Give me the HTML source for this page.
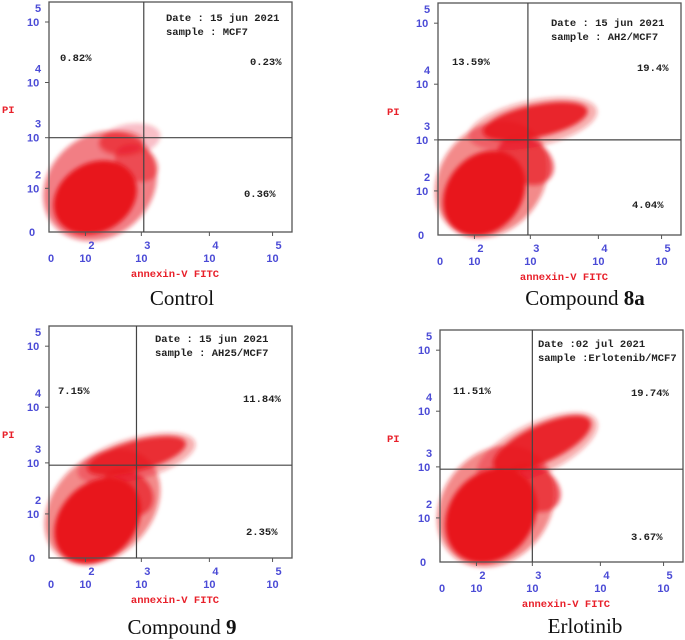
<!DOCTYPE html>
<html><head><meta charset="utf-8"><style>
html,body{margin:0;padding:0;background:#fff;}
svg{display:block;}
.tk{font-family:"Liberation Sans",sans-serif;font-weight:bold;font-size:11px;fill:#4b4bd6;}
.mono{font-family:"Liberation Mono",monospace;font-weight:bold;font-size:10.5px;fill:#222;}
.red{font-family:"Liberation Mono",monospace;font-weight:bold;font-size:10.5px;fill:#e8202a;}
.cap{font-family:"Liberation Serif",serif;font-size:21px;fill:#111;}
</style></head><body>
<svg id="fig" width="685" height="640" viewBox="0 0 685 640">
<defs><filter id="bl" x="-50%" y="-50%" width="200%" height="200%"><feGaussianBlur stdDeviation="2"/></filter></defs>
</svg>
<script>
const panelNames = ["control","compound-8a","compound-9","erlotinib"];
const captions = ["Control","Compound ","Compound ","Erlotinib"];
const captionBold = ["","8a","9",""];
const dateText = ["Date : 15 jun 2021","Date : 15 jun 2021","Date : 15 jun 2021","Date :02 jul 2021"];
const sampleText = ["sample : MCF7","sample : AH2/MCF7","sample : AH25/MCF7","sample :Erlotenib/MCF7"];
const ulPct = ["0.82%","13.59%","7.15%","11.51%"];
const urPct = ["0.23%","19.4%","11.84%","19.74%"];
const lrPct = ["0.36%","4.04%","2.35%","3.67%"];
const gateX = [0.39,0.37,0.36,0.38];
const gateY = [0.41,0.41,0.40,0.40];
// cluster data (fractions of box): halo, core, band-halo, band, bridge
const clX = [
 [0.21,0.19,0.33,0.30,0.36],
 [0.22,0.19,0.39,0.40,0.36],
 [0.22,0.20,0.36,0.36,0.32],
 [0.23,0.21,0.40,0.42,0.38]];
const clY = [
 [0.20,0.15,0.40,0.39,0.30],
 [0.24,0.18,0.48,0.49,0.32],
 [0.22,0.16,0.43,0.44,0.28],
 [0.24,0.20,0.49,0.51,0.32]];
const clRX = [
 [0.25,0.18,0.13,0.09,0.07],
 [0.26,0.19,0.27,0.22,0.09],
 [0.27,0.20,0.25,0.21,0.09],
 [0.27,0.21,0.27,0.22,0.09]];
const clRY = [
 [0.22,0.15,0.07,0.05,0.10],
 [0.22,0.16,0.10,0.07,0.13],
 [0.21,0.16,0.09,0.065,0.12],
 [0.23,0.18,0.11,0.08,0.13]];
const clAng = [[-40,-30,-10,0,-60],[-50,-50,-12,-12,-60],[-45,-45,-15,-15,-60],[-50,-50,-25,-25,-60]];
const clOp = [[0.55,1,0.25,0.45,0.45],[0.5,1,0.35,0.9,0.7],[0.5,1,0.35,0.85,0.7],[0.5,1,0.35,0.9,0.7]];
const yExp = ["5","4","3","2"];
const xExp = ["2","3","4","5"];

const boxes = [{x:49,y:2,w:243,h:230},{x:438,y:3,w:243,h:232},{x:49,y:326,w:243,h:232},{x:440,y:330,w:243,h:232}];
const offs = [{x:0,y:0},{x:385,y:0},{x:0,y:320},{x:385,y:320}];
const dateXY = [[166,18],[551,23],[155,339],[538,344]];
const ulXY = [[60,61],[452,65],[58,394],[453,394]];
const urXY = [[250,65],[637,71],[243,402],[631,396]];
const lrXY = [[244,197],[632,208],[246,535],[631,540]];
const yTickF = [0.087,0.35,0.59,0.81];
const xTickF = [0.15,0.38,0.66,0.92];

const NS="http://www.w3.org/2000/svg";
const svg=document.getElementById('fig');
function mk(tag,attrs,parent,txt){const e=document.createElementNS(NS,tag);for(const k in attrs)e.setAttribute(k,attrs[k]);if(txt!==undefined)e.textContent=txt;parent.appendChild(e);return e;}

panelNames.forEach((nm,i)=>{
 const b=boxes[i],o=offs[i];
 const g=mk('g',{},svg);
 
 
 const sx=f=>b.x+f*b.w, sy=f=>b.y+b.h-f*b.h;
 const cg=mk('g',{filter:'url(#bl)'},g);
 
 
 clX[i].forEach((cx,j)=>{
  const X=sx(cx),Y=sy(clY[i][j]);
  const el=mk('ellipse',{cx:X,cy:Y,rx:clRX[i][j]*b.w,ry:clRY[i][j]*b.h,transform:`rotate(${clAng[i][j]} ${X} ${Y})`,fill:'#e8141c','fill-opacity':clOp[i][j]},cg);
  
  
 });
 const bx=mk('rect',{x:b.x,y:b.y,width:b.w,height:b.h,fill:'none',stroke:'#555','stroke-width':1.3},g);
 
 
 const vl=mk('line',{x1:sx(gateX[i]),x2:sx(gateX[i]),y1:b.y,y2:b.y+b.h,stroke:'#444','stroke-width':1.2},g);
 
 
 const hl=mk('line',{x1:b.x,x2:b.x+b.w,y1:sy(gateY[i]),y2:sy(gateY[i]),stroke:'#444','stroke-width':1.2},g);
 
 
 yExp.forEach((e,k)=>{
  const Y=b.y+yTickF[k]*b.h;
  const t=mk('text',{x:b.x-22,y:Y+4,class:'tk'},g,'10');
  
  
  const t2=mk('text',{x:b.x-14,y:Y-10,class:'tk'},g,e);
  
  
  mk('line',{x1:b.x-4,x2:b.x,y1:Y,y2:Y,stroke:'#555'},g);
 });
 const y0=mk('text',{x:b.x-20,y:b.y+b.h+4,class:'tk'},g,'0');
 
 
 xExp.forEach((e,k)=>{
  const X=b.x+xTickF[k]*b.w;
  const t=mk('text',{x:X,y:b.y+b.h+30,class:'tk','text-anchor':'middle'},g,'10');
  
  
  const t2=mk('text',{x:X+6,y:b.y+b.h+17,class:'tk','text-anchor':'middle'},g,e);
  
  
  mk('line',{x1:X,x2:X,y1:b.y+b.h,y2:b.y+b.h+4,stroke:'#555'},g);
 });
 const x0=mk('text',{x:b.x+2,y:b.y+b.h+30,class:'tk','text-anchor':'middle'},g,'0');
 
 
 const xt=mk('text',{x:b.x+126,y:b.y+b.h+45,class:'red','text-anchor':'middle'},g,'annexin-V FITC');
 
 
 const yt=mk('text',{x:o.x+2,y:b.y+0.465*b.h+4,class:'red'},g,'PI');
 
 
 const d=mk('text',{x:dateXY[i][0],y:dateXY[i][1]+3,class:'mono'},g,dateText[i]);
 
 
 const s=mk('text',{x:dateXY[i][0],y:dateXY[i][1]+17,class:'mono'},g,sampleText[i]);
 
 
 [[ulXY,ulPct,'upper-left'],[urXY,urPct,'upper-right'],[lrXY,lrPct,'lower-right']].forEach(([xy,arr,q])=>{
  const t=mk('text',{x:xy[i][0],y:xy[i][1],class:'mono'},g,arr[i]);
  
  
 });
 const cap=mk('text',{x:o.x+(i%2?200:182),y:o.y+(i<2?305:(i==2?314:313)),class:'cap','text-anchor':'middle'},g,captions[i]);
 
 
 if(captionBold[i]){mk('tspan',{'font-weight':'bold'},cap,captionBold[i]);}
});
</script>
</body></html>
